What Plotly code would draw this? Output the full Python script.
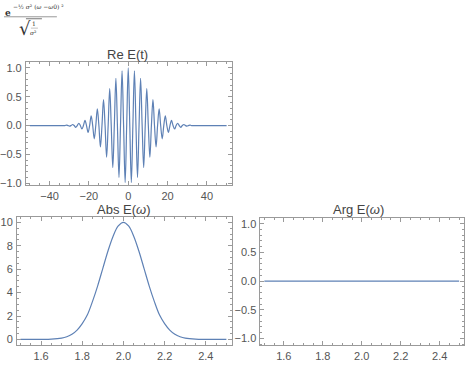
import plotly.graph_objects as go

W, H = 474, 372

# ---- data ----
# Re E(t): extrema and zero crossings for t >= 0 (curve is symmetric)
t_half = [0.0, 0.79, 1.57, 2.36, 3.14, 3.93, 4.71, 5.50, 6.28, 7.07, 7.85, 8.64,
          9.42, 10.21, 11.0, 11.78, 12.57, 13.35, 14.14, 14.92, 15.71, 16.49,
          17.28, 18.06, 18.85, 19.63, 20.42, 21.21, 21.99, 22.78, 23.56, 24.35,
          25.13, 25.92, 26.70, 27.49, 28.27, 29.06, 29.85, 30.63, 31.42, 32.2,
          40.0, 50.0]
re_half = [1.00, 0.0, -0.99, 0.0, 0.95, 0.0, -0.90, 0.0, 0.82, 0.0, -0.73, 0.0,
           0.64, 0.0, -0.55, 0.0, 0.45, 0.0, -0.37, 0.0, 0.29, 0.0,
           -0.23, 0.0, 0.17, 0.0, -0.12, 0.0, 0.09, 0.0, -0.06, 0.0,
           0.04, 0.0, -0.03, 0.0, 0.018, 0.0, -0.01, 0.0, 0.007, 0.0,
           0.0, 0.0]

# Abs E(omega): omega <= 2 half (symmetric about 2)
w_half = [1.5, 1.6, 1.65, 1.7, 1.725, 1.75, 1.775, 1.8, 1.825, 1.85, 1.875,
          1.9, 1.925, 1.95, 1.975, 2.0]
abs_half = [0.0, 0.002, 0.02, 0.11, 0.23, 0.44, 0.80, 1.35, 2.10, 3.25, 4.58,
            6.07, 7.55, 8.82, 9.69, 10.0]

# Arg E(omega)
w_arg = [1.5, 2.5]
arg_vals = [0.0, 0.0]

# build full symmetric series
t_full = [-t for t in reversed(t_half[1:])] + t_half
re_full = list(reversed(re_half[1:])) + re_half
w_full = w_half + [round(4.0 - w, 4) for w in reversed(w_half[:-1])]
abs_full = abs_half + list(reversed(abs_half[:-1]))

LINE = "#5E81B5"
FRAME = "#9a9a9a"
TXT = "#555555"
FONT = "Liberation Sans"

def px(x):
    return x / W

def py(y):
    return 1 - y / H

fig = go.Figure()
fig.add_trace(go.Scatter(x=t_full, y=re_full, mode="lines",
                         line=dict(color=LINE, width=1.2, shape="spline", smoothing=1.0),
                         xaxis="x", yaxis="y", showlegend=False))
fig.add_trace(go.Scatter(x=w_full, y=abs_full, mode="lines",
                         line=dict(color=LINE, width=1.2, shape="spline"),
                         xaxis="x2", yaxis="y2", showlegend=False))
fig.add_trace(go.Scatter(x=w_arg, y=arg_vals, mode="lines",
                         line=dict(color=LINE, width=1.2),
                         xaxis="x3", yaxis="y3", showlegend=False))

def ax(domain, rng, dtick, minor, anchor, fmt=None, tick0=None):
    d = dict(domain=domain, range=rng, dtick=dtick, anchor=anchor,
             showgrid=False, zeroline=False, showline=True, linecolor=FRAME,
             linewidth=1, mirror="allticks", ticks="inside", ticklen=4,
             tickcolor=FRAME, tickwidth=1,
             tickfont=dict(family=FONT, size=11, color=TXT),
             minor=dict(ticks="inside", ticklen=2, dtick=minor, tickcolor=FRAME,
                        showgrid=False),
             fixedrange=True)
    if fmt:
        d["tickformat"] = fmt
    if tick0 is not None:
        d["tick0"] = tick0
    return d

dom_top_x = [px(25), px(231)]
dom_top_y = [py(187), py(62)]
dom_bl_x = [px(16), px(231)]
dom_bl_y = [py(349), py(219)]
dom_br_x = [px(260), px(464)]
dom_br_y = [py(349), py(220)]

xa1 = ax(dom_top_x, [-52, 52.5], 20, 5, "y", tick0=0)
ya1 = ax(dom_top_y, [-1.04, 1.1], 0.5, 0.1, "x", fmt=".1f", tick0=0)
xa2 = ax(dom_bl_x, [1.483, 2.525], 0.2, 0.05, "y2", fmt=".1f", tick0=0)
ya2 = ax(dom_bl_y, [-0.5, 10.45], 2, 0.5, "x2", tick0=0)
xa3 = ax(dom_br_x, [1.48, 2.525], 0.2, 0.05, "y3", fmt=".1f", tick0=0)
ya3 = ax(dom_br_y, [-1.12, 1.1], 0.5, 0.1, "x3", fmt=".1f", tick0=0)
for a in (ya1, ya2, ya3):
    a["ticklabelstandoff"] = 1
for a in (xa1, xa2, xa3):
    a["ticklabelstandoff"] = 0

annotations = []
def title(text, xc, yc):
    annotations.append(dict(text=text, x=px(xc), y=py(yc), xref="paper", yref="paper",
                            showarrow=False, xanchor="center", yanchor="middle",
                            font=dict(family=FONT, size=13, color="#444444")))

title("Re E(t)", 127, 54)
title("Abs E(<i>ω</i>)", 123, 211)
title("Arg E(<i>ω</i>)", 358, 211)

def txt(text, x, y, size, anchor="left"):
    annotations.append(dict(text=text, x=px(x), y=py(y), xref="paper", yref="paper",
                            showarrow=False, xanchor=anchor, yanchor="middle",
                            font=dict(family="DejaVu Serif", size=size, color="#333333")))

# formula
txt("<b>e</b>", 2, 12.5, 9)
txt("−½ <i>σ</i>² (<i>ω</i> −<i>ω</i>0) ²", 10, 5.5, 6)
txt("√", 16, 28, 18)
txt("1", 33, 23, 6, anchor="center")
txt("<i>σ</i>²", 33, 32, 6, anchor="center")

shapes = [
    dict(type="line", xref="paper", yref="paper", x0=px(3), x1=px(56), y0=py(16), y1=py(16),
         line=dict(color="#999999", width=1)),
    dict(type="line", xref="paper", yref="paper", x0=px(25), x1=px(41), y0=py(18), y1=py(18),
         line=dict(color="#777777", width=1)),
    dict(type="line", xref="paper", yref="paper", x0=px(30), x1=px(37), y0=py(27.5), y1=py(27.5),
         line=dict(color="#999999", width=0.6)),
]

fig.update_layout(
    width=W, height=H, margin=dict(l=0, r=0, t=0, b=0),
    paper_bgcolor="white", plot_bgcolor="white",
    xaxis=xa1, yaxis=ya1, xaxis2=xa2, yaxis2=ya2, xaxis3=xa3, yaxis3=ya3,
    annotations=annotations, shapes=shapes, showlegend=False,
)

fig.write_html("out.html")
